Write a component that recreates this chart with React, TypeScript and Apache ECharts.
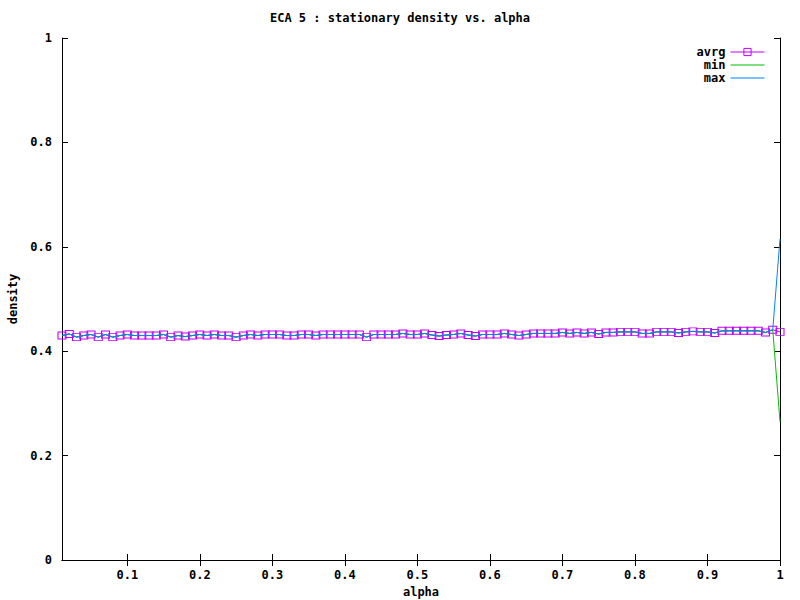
import React, { useEffect, useRef } from "react";
import * as echarts from "echarts";

const alphas = [
  0.01, 0.02, 0.03, 0.04, 0.05, 0.06, 0.07, 0.08, 0.09, 0.1,
  0.11, 0.12, 0.13, 0.14, 0.15, 0.16, 0.17, 0.18, 0.19, 0.2,
  0.21, 0.22, 0.23, 0.24, 0.25, 0.26, 0.27, 0.28, 0.29, 0.3,
  0.31, 0.32, 0.33, 0.34, 0.35, 0.36, 0.37, 0.38, 0.39, 0.4,
  0.41, 0.42, 0.43, 0.44, 0.45, 0.46, 0.47, 0.48, 0.49, 0.5,
  0.51, 0.52, 0.53, 0.54, 0.55, 0.56, 0.57, 0.58, 0.59, 0.6,
  0.61, 0.62, 0.63, 0.64, 0.65, 0.66, 0.67, 0.68, 0.69, 0.7,
  0.71, 0.72, 0.73, 0.74, 0.75, 0.76, 0.77, 0.78, 0.79, 0.8,
  0.81, 0.82, 0.83, 0.84, 0.85, 0.86, 0.87, 0.88, 0.89, 0.9,
  0.91, 0.92, 0.93, 0.94, 0.95, 0.96, 0.97, 0.98, 0.99, 1.0,
];

const avrg = [
  0.430, 0.433, 0.427, 0.430, 0.432, 0.427, 0.432, 0.427, 0.430, 0.432,
  0.430, 0.430, 0.430, 0.430, 0.432, 0.427, 0.430, 0.428, 0.430, 0.432,
  0.430, 0.432, 0.430, 0.430, 0.427, 0.430, 0.432, 0.430, 0.432, 0.432,
  0.432, 0.430, 0.430, 0.432, 0.432, 0.430, 0.432, 0.432, 0.432, 0.432,
  0.432, 0.432, 0.427, 0.432, 0.432, 0.432, 0.432, 0.434, 0.432, 0.432,
  0.434, 0.431, 0.429, 0.431, 0.432, 0.434, 0.431, 0.429, 0.432, 0.432,
  0.432, 0.434, 0.432, 0.430, 0.432, 0.434, 0.434, 0.434, 0.434, 0.436,
  0.434, 0.436, 0.434, 0.436, 0.433, 0.436, 0.436, 0.437, 0.437, 0.437,
  0.434, 0.434, 0.437, 0.437, 0.437, 0.435, 0.437, 0.438, 0.437, 0.437,
  0.435, 0.439, 0.439, 0.439, 0.439, 0.439, 0.439, 0.436, 0.441, 0.437,
];

const minVals = [
  0.430, 0.433, 0.427, 0.430, 0.432, 0.427, 0.432, 0.427, 0.430, 0.432,
  0.430, 0.430, 0.430, 0.430, 0.432, 0.427, 0.430, 0.428, 0.430, 0.432,
  0.430, 0.432, 0.430, 0.430, 0.427, 0.430, 0.432, 0.430, 0.432, 0.432,
  0.432, 0.430, 0.430, 0.432, 0.432, 0.430, 0.432, 0.432, 0.432, 0.432,
  0.432, 0.432, 0.427, 0.432, 0.432, 0.432, 0.432, 0.434, 0.432, 0.432,
  0.434, 0.431, 0.429, 0.431, 0.432, 0.434, 0.431, 0.429, 0.432, 0.432,
  0.432, 0.434, 0.432, 0.430, 0.432, 0.434, 0.434, 0.434, 0.434, 0.436,
  0.434, 0.436, 0.434, 0.436, 0.433, 0.436, 0.436, 0.437, 0.437, 0.437,
  0.434, 0.434, 0.437, 0.437, 0.437, 0.435, 0.437, 0.438, 0.437, 0.437,
  0.435, 0.439, 0.439, 0.439, 0.439, 0.439, 0.439, 0.436, 0.441, 0.265,
];

const maxVals = [
  0.430, 0.433, 0.427, 0.430, 0.432, 0.427, 0.432, 0.427, 0.430, 0.432,
  0.430, 0.430, 0.430, 0.430, 0.432, 0.427, 0.430, 0.428, 0.430, 0.432,
  0.430, 0.432, 0.430, 0.430, 0.427, 0.430, 0.432, 0.430, 0.432, 0.432,
  0.432, 0.430, 0.430, 0.432, 0.432, 0.430, 0.432, 0.432, 0.432, 0.432,
  0.432, 0.432, 0.427, 0.432, 0.432, 0.432, 0.432, 0.434, 0.432, 0.432,
  0.434, 0.431, 0.429, 0.431, 0.432, 0.434, 0.431, 0.429, 0.432, 0.432,
  0.432, 0.434, 0.432, 0.430, 0.432, 0.434, 0.434, 0.434, 0.434, 0.436,
  0.434, 0.436, 0.434, 0.436, 0.433, 0.436, 0.436, 0.437, 0.437, 0.437,
  0.434, 0.434, 0.437, 0.437, 0.437, 0.435, 0.437, 0.438, 0.437, 0.437,
  0.435, 0.439, 0.439, 0.439, 0.439, 0.439, 0.439, 0.436, 0.441, 0.615,
];

const xTicks = [0.1, 0.2, 0.3, 0.4, 0.5, 0.6, 0.7, 0.8, 0.9, 1];

const FONT = "'DejaVu Sans Mono', 'Liberation Mono', monospace";

export default function App() {
  const ref = useRef<HTMLDivElement>(null);
  useEffect(() => {
    if (!ref.current) return;
    const chart = echarts.init(ref.current, null, { renderer: "svg" });
    const pairs = (ys: number[]) => alphas.map((a, i) => [a, ys[i]]);
    const txt = { fontFamily: FONT, fontSize: 12, fontWeight: "bold" as const, color: "#000" };
    const axisLine = { show: true, lineStyle: { color: "#000", width: 1 } };
    chart.setOption({
      animation: false,
      backgroundColor: "#fff",
      textStyle: { fontFamily: FONT },
      title: {
        text: "ECA 5 : stationary density vs. alpha",
        left: "center",
        top: 7,
        textStyle: { ...txt },
      },
      legend: {
        orient: "vertical",
        right: 35,
        top: 46,
        padding: 0,
        align: "right",
        itemWidth: 34,
        itemHeight: 9,
        itemGap: 1,
        lineStyle: { width: 1 },
        itemStyle: { borderWidth: 1 },
        textStyle: { ...txt },
        data: [
          { name: "avrg" },
          { name: "min", itemStyle: { opacity: 0 } },
          { name: "max", itemStyle: { opacity: 0 } },
        ],
      },
      grid: { left: 62, right: 20, top: 38, bottom: 40, containLabel: false, outerBoundsMode: "none" },
      xAxis: [
        {
          type: "value",
          min: 0.01,
          max: 1,
          name: "alpha",
          nameLocation: "middle",
          nameGap: 26,
          nameTextStyle: { ...txt },
          axisLine,
          splitLine: { show: false },
          axisTick: { inside: true, length: 6, customValues: xTicks, lineStyle: { color: "#000" } },
          axisLabel: {
            ...txt,
            margin: 9,
            customValues: xTicks,
            formatter: (v: number) => String(Math.round(v * 10) / 10),
          },
        },
        {
          type: "value",
          position: "top",
          min: 0.01,
          max: 1,
          axisLine,
          splitLine: { show: false },
          axisTick: { inside: true, length: 6, customValues: xTicks, lineStyle: { color: "#000" } },
          axisLabel: { show: false },
        },
      ],
      yAxis: [
        {
          type: "value",
          min: 0,
          max: 1,
          interval: 0.2,
          name: "density",
          nameLocation: "middle",
          nameGap: 42,
          nameRotate: 90,
          nameTextStyle: { ...txt },
          axisLine,
          splitLine: { show: false },
          axisTick: { inside: true, length: 6, lineStyle: { color: "#000" } },
          axisLabel: {
            ...txt,
            margin: 10,
            formatter: (v: number) => String(Math.round(v * 10) / 10),
          },
        },
        {
          type: "value",
          position: "right",
          min: 0,
          max: 1,
          interval: 0.2,
          axisLine,
          splitLine: { show: false },
          axisTick: { inside: true, length: 6, lineStyle: { color: "#000" } },
          axisLabel: { show: false },
        },
      ],
      series: [
        {
          name: "avrg",
          type: "line",
          data: pairs(avrg),
          symbol: "rect",
          symbolSize: [8, 7],
          showAllSymbol: true,
          lineStyle: { color: "#c000ff", width: 1 },
          itemStyle: { color: "rgba(255,255,255,0)", borderColor: "#c000ff", borderWidth: 1 },
          z: 2,
        },
        {
          name: "min",
          type: "line",
          data: pairs(minVals),
          symbol: "none",
          lineStyle: { color: "#00c000", width: 1 },
          itemStyle: { color: "#00c000" },
          z: 3,
        },
        {
          name: "max",
          type: "line",
          data: pairs(maxVals),
          symbol: "none",
          lineStyle: { color: "#0080ff", width: 1 },
          itemStyle: { color: "#0080ff" },
          z: 4,
        },
      ],
    });
    return () => chart.dispose();
  }, []);
  return <div ref={ref} style={{ position: "fixed", left: 0, top: 0, width: 800, height: 600 }} />;
}
